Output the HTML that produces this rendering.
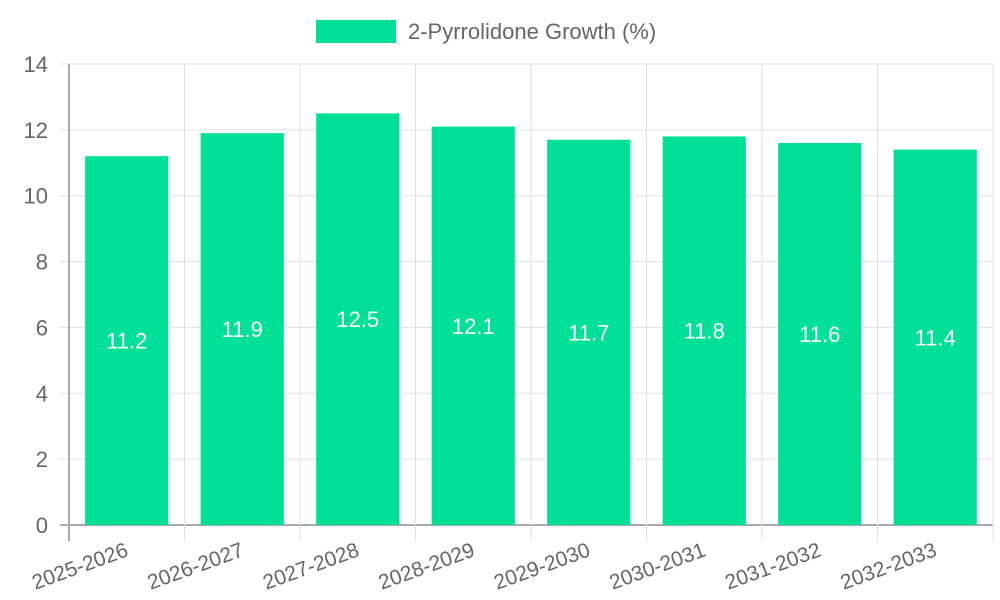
<!DOCTYPE html>
<html><head><meta charset="utf-8"><style>body{margin:0;background:#fff}svg{display:block;font-family:"Liberation Sans",sans-serif}</style></head>
<body>
<svg id="c" width="1000" height="600">
<rect x="316" y="20" width="80" height="23" fill="#00e096"/>
<text x="408" y="39" font-size="22" fill="#666">2-Pyrrolidone Growth (%)</text>
</svg>
<script>
const categories=["2025-2026","2026-2027","2027-2028","2028-2029","2029-2030","2030-2031","2031-2032","2032-2033"];
const values=[11.2,11.9,12.5,12.1,11.7,11.8,11.6,11.4];
const yTicks=[0,2,4,6,8,10,12,14];
const svg=document.getElementById('c'),NS='http://www.w3.org/2000/svg';
const L=69,R=993,T=64,B=525,yMax=14;
const y=v=>B-(v/yMax)*(B-T);
const band=(R-L)/categories.length;
const x=i=>L+band*i;
function mk(t,a,p){const e=document.createElementNS(NS,t);for(const k in a)e.setAttribute(k,a[k]);(p||svg).appendChild(e);return e;}
yTicks.forEach(v=>{
 const g=mk('line',{x1:60,x2:R,y1:y(v),y2:y(v),stroke:v===0?'#aaa':'#e0e0e0','stroke-width':v===0?2:1});
 
 
 const t=mk('text',{x:48,y:y(v)+8,'font-size':22,fill:'#666','text-anchor':'end'});
 t.textContent=v;
 
 
});
for(let i=0;i<=categories.length;i++){
 const g=mk('line',{x1:x(i),x2:x(i),y1:T,y2:541,stroke:i===0?'#aaa':'#e0e0e0','stroke-width':i===0?2:1});
 
 
}
categories.forEach((c,i)=>{
 const cx=x(i)+band/2,w=band*0.72;
 const r=mk('rect',{x:cx-w/2,y:y(values[i]),width:w,height:B-y(values[i]),fill:'#00e096'});
 
 
 const v=mk('text',{x:cx,y:(y(values[i])+B)/2+8,'font-size':22,fill:'#fff','text-anchor':'middle'});
 v.textContent=values[i];
 
 
 const t=mk('text',{x:cx,y:556,'font-size':21,fill:'#666','text-anchor':'end',transform:`rotate(-20 ${cx} 548)`});
 t.textContent=c;
 
 
});
</script>
</body></html>
